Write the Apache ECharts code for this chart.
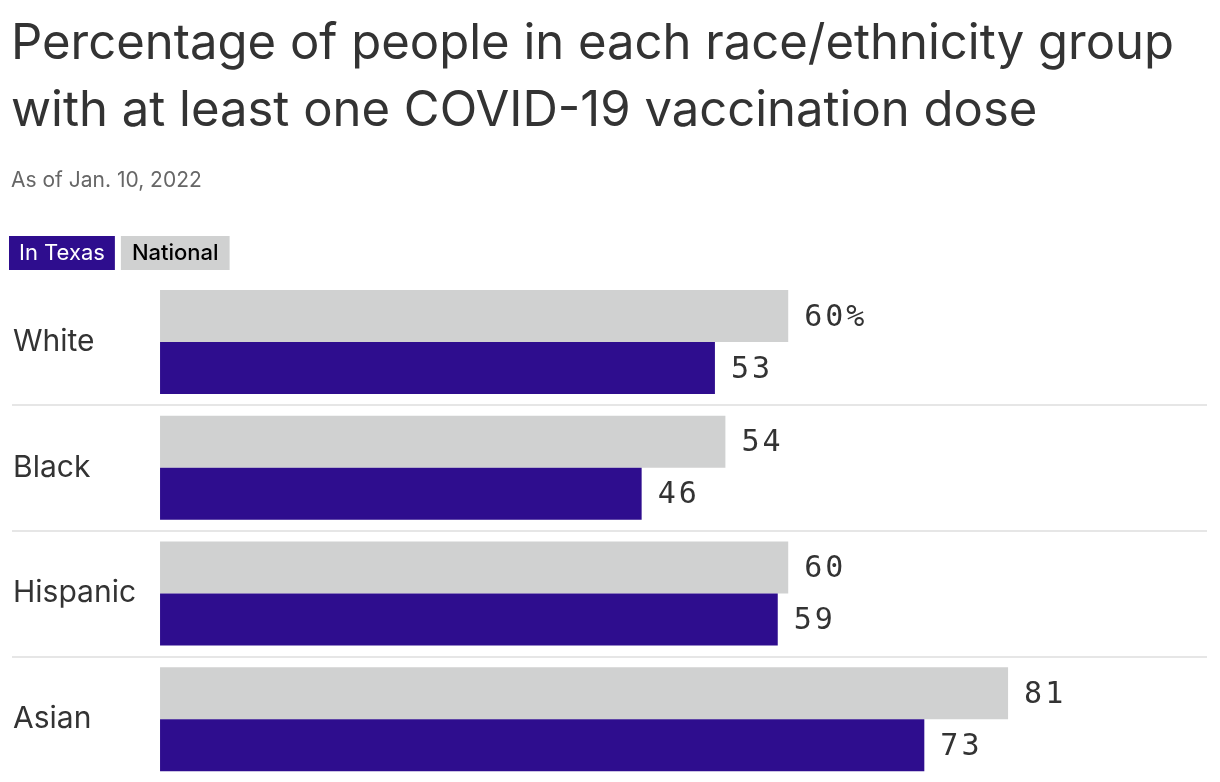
<!DOCTYPE html>
<html><head><meta charset="utf-8">
<script src="https://cdn.jsdelivr.net/npm/echarts@6/dist/echarts.min.js"></script>
<style>html,body{margin:0;padding:0;background:#fff}#c{width:1220px;height:782px}</style>
</head><body><div id="c"></div>
<script>
const categories = ['White', 'Black', 'Hispanic', 'Asian'];
const nationalValues = [60, 54, 60, 81];
const texasValues = [53, 46, 59, 73];
const seriesNames = ['National', 'In Texas'];

const PURPLE = '#2e0d8e';
const GRAY = '#d0d1d1';
const chart = echarts.init(document.getElementById('c'));
const spaced = s => String(s).split('').map(c => '{d|' + c + '}').join('{s| }');
const labelRich = {
  d: {fontFamily: 'DejaVu Sans Mono', fontSize: 30, color: '#333', padding: [4, 0, 0, 0]},
  s: {fontFamily: 'DejaVu Sans Mono', fontSize: 5, color: '#333'}
};
chart.setOption({
  animation: false,
  title: [
    {text: 'Percentage of people in each race/ethnicity group\nwith at least one COVID-19 vaccination dose',
     left: 11, top: 11, padding: 0,
     textStyle: {fontFamily: 'Inter', fontWeight: 'normal', fontSize: 49, lineHeight: 67, color: '#333'}},
    {text: 'As of Jan. 10, 2022', left: 11, top: 170, padding: 0,
     textStyle: {fontFamily: 'Inter', fontWeight: 'normal', fontSize: 21, color: '#666'}}
  ],
  legend: {
    left: 4, top: 236, padding: 0, itemWidth: 0, itemHeight: 0, itemGap: 1, icon: 'none', selectedMode: false,
    data: [
      {name: seriesNames[1], textStyle: {backgroundColor: PURPLE, color: '#fff', fontFamily: 'Inter', fontSize: 22, padding: [6, 10, 6, 10]}},
      {name: seriesNames[0], textStyle: {backgroundColor: GRAY, color: '#000', fontFamily: 'Inter', fontSize: 22, fontWeight: 500, padding: [6, 11, 6, 11]}}
    ]
  },
  grid: {left: 12, right: 13, top: 279, bottom: -1, containLabel: false},
  xAxis: {type: 'value', min: -14.14, max: 100, show: false},
  yAxis: {
    type: 'category', data: categories, inverse: true,
    axisLine: {show: false}, axisTick: {show: false},
    axisLabel: {inside: true, margin: 1, fontFamily: 'Inter', fontSize: 30, color: '#333'},
    splitLine: {show: true, lineStyle: {color: ['transparent', '#e6e6e6', '#e6e6e6', '#e6e6e6', 'transparent'], width: 2}}
  },
  series: [
    {name: seriesNames[0], type: 'bar', data: nationalValues, barWidth: 52, barGap: '0%',
     itemStyle: {color: GRAY},
     label: {show: true, position: 'right', distance: 16, rich: labelRich,
       formatter: p => spaced(p.dataIndex === 0 ? p.value + '%' : p.value)}},
    {name: seriesNames[1], type: 'bar', data: texasValues, barWidth: 52, barGap: '0%',
     itemStyle: {color: PURPLE},
     label: {show: true, position: 'right', distance: 16, rich: labelRich,
       formatter: p => spaced(p.value)}}
  ]
});
</script></body></html>
